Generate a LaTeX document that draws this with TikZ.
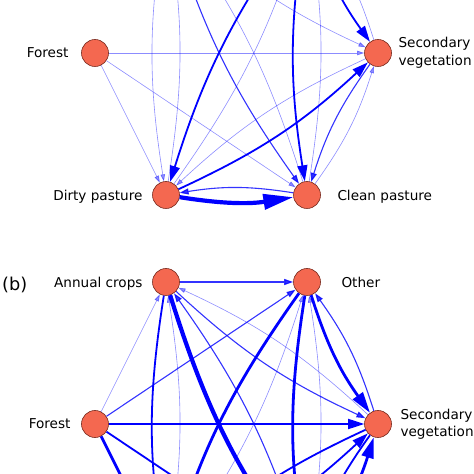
\documentclass[tikz,border=0pt]{standalone}
\usepackage{fontspec}
\setmainfont{DejaVu Sans}
\usetikzlibrary{arrows.meta}
\definecolor{landfill}{RGB}{244,104,80}
\definecolor{landrim}{RGB}{120,42,30}
\tikzset{
  land/.style={draw=landrim,fill=landfill,circle,line width=0.6pt,minimum size=27pt,inner sep=0pt},
  lbl/.style={font=\fontsize{13.6}{17.5}\selectfont,inner sep=0pt,text depth=0pt},
  lbltwo/.style={font=\fontsize{13.6}{17.5}\selectfont,inner sep=0pt,align=left},
  flow/.style={draw=blue,line cap=butt},
  w1/.style={flow,line width=0.6pt,opacity=0.45,-{Triangle[length=7pt,width=4.5pt]}},
  w2/.style={flow,line width=1.1pt,opacity=0.8,-{Triangle[length=9pt,width=6pt]}},
  w3/.style={flow,line width=1.8pt,-{Triangle[length=16pt,width=10pt]}},
  w4/.style={flow,line width=2.8pt,-{Triangle[length=21pt,width=12pt]}},
  w5/.style={flow,line width=4.2pt,-{Triangle[length=30pt,width=15pt]}},
  mut/.style={bend right=9}
}
\begin{document}
\begin{tikzpicture}[x=1pt,y=1pt]
  \useasboundingbox (0,0) rectangle (474,474);
  \clip (0,0) rectangle (474,474);
  % panel (a)
  \node (Aa) at (166,563) [land] {};
  \node (Oa) at (307,563) [land] {};
  \node (Fa) at (95,421) [land,label={[lbl,label distance=12.5pt]left:Forest}] {};
  \node (Sa) at (378,421) [land,label={[lbltwo,label distance=6.5pt]right:{Secondary\\vegetation}}] {};
  \node (Da) at (166,279) [land,label={[lbl,label distance=9.5pt]left:Dirty pasture}] {};
  \node (Ca) at (307,279) [land,label={[lbl,label distance=16.5pt]right:Clean pasture}] {};
  \draw[w1] (Fa) -- (Sa);
  \draw[w1] (Fa) -- (Da);
  \draw[w1] (Fa) -- (Ca);
  \draw[w1] (Aa) to[mut] (Da);
  \draw[w1] (Da) to[mut] (Aa);
  \draw[w2] (Aa) to[mut] (Ca);
  \draw[w1] (Ca) to[mut] (Aa);
  \draw[w3] (Oa) to[mut] (Da);
  \draw[w1] (Da) to[mut] (Oa);
  \draw[w1] (Aa) to[mut] (Sa);
  \draw[w3] (Oa) to[mut] (Ca);
  \draw[w1] (Ca) to[mut] (Oa);
  \draw[w3] (Oa) to[mut] (Sa);
  \draw[w1] (Sa) to[mut] (Oa);
  \draw[w3] (Da) to[mut] (Sa);
  \draw[w1] (Sa) to[mut] (Da);
  \draw[w2] (Sa) to[mut] (Ca);
  \draw[w1] (Ca) to[mut] (Sa);
  \draw[w5] (Da) to[mut] (Ca);
  \draw[w2] (Ca) to[mut] (Da);
  % panel (b)
  \node (panelb) at (2,183) [anchor=base west,inner sep=0pt,font=\fontsize{17.7}{20}\selectfont] {(b)};
  \node (Ab) at (166,192) [land,label={[lbl,label distance=9.5pt]left:Annual crops}] {};
  \node (Ob) at (307,192) [land,label={[lbl,label distance=20.5pt]right:Other}] {};
  \node (Fb) at (95,50) [land,label={[lbl,label distance=10.5pt]left:Forest}] {};
  \node (Sb) at (378,50) [land,label={[lbltwo,label distance=8.5pt]right:{Secondary\\vegetation}}] {};
  \node (Db) at (166,-92) [land] {};
  \node (Cb) at (307,-92) [land] {};
  \draw[w2] (Ab) -- (Ob);
  \draw[w1] (Fb) -- (Ab);
  \draw[w2] (Fb) -- (Ob);
  \draw[w3] (Fb) -- (Sb);
  \draw[w4] (Fb) -- (Db);
  \draw[w3] (Fb) -- (Cb);
  \draw[w3] (Ab) to[mut] (Db);
  \draw[w1] (Db) to[mut] (Ab);
  \draw[w5] (Ab) to[mut] (Cb);
  \draw[w2] (Cb) to[mut] (Ab);
  \draw[w4] (Ob) to[mut] (Db);
  \draw[w1] (Db) to[mut] (Ob);
  \draw[w4] (Ob) to[mut] (Cb);
  \draw[w1] (Cb) to[mut] (Ob);
  \draw[w4] (Ob) to[mut] (Sb);
  \draw[w2] (Sb) to[mut] (Ob);
  \draw[w2] (Ab) to[mut] (Sb);
  \draw[w1] (Sb) to[mut] (Ab);
  \draw[w3] (Db) to[mut] (Sb);
  \draw[w3] (Sb) to[mut] (Db);
  \draw[w4] (Cb) to[mut] (Sb);
  \draw[w3] (Sb) to[mut] (Cb);
\end{tikzpicture}
\end{document}
